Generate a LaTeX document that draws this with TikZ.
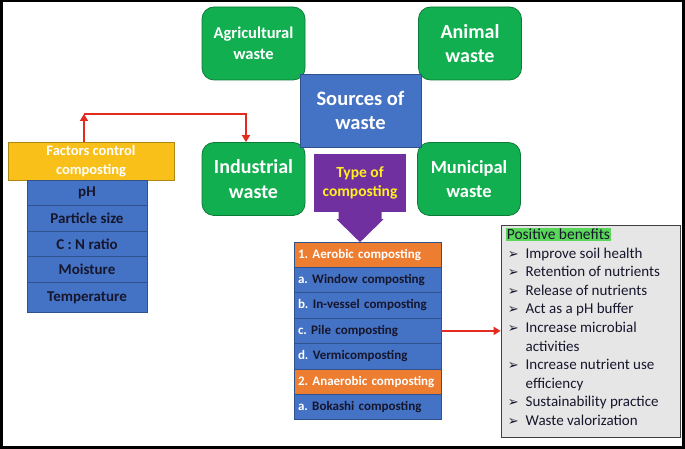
\documentclass[tikz,border=0pt]{standalone}
\usepackage{fontspec}
\setmainfont{Carlito}
\newfontfamily\dingfont{DejaVu Sans}
\usetikzlibrary{positioning,arrows.meta}

\definecolor{wastegreen}{HTML}{12AF50}
\definecolor{wasteblue}{HTML}{4472C4}
\definecolor{bordblue}{HTML}{2F528F}
\definecolor{factyellow}{HTML}{F9C01A}
\definecolor{typeorange}{HTML}{ED7D31}
\definecolor{typepurple}{HTML}{7030A0}
\definecolor{typeyellow}{HTML}{FFF01E}
\definecolor{linkred}{HTML}{E52B20}
\definecolor{panelgray}{HTML}{E7E6E6}
\definecolor{hlgreen}{HTML}{5AD65A}
\definecolor{darktext}{HTML}{16162C}

\newcommand{\benefit}{{\dingfont\fontsize{13}{13}\selectfont ➢}}

\begin{document}
\frenchspacing
\hyphenpenalty=10000
\begin{tikzpicture}[
  x=1pt, y=1pt,
  source/.style={draw=wastegreen!70!black, fill=wastegreen, rounded corners=12pt,
                 text=white, align=center, minimum width=103pt, minimum height=73pt,
                 inner sep=1pt, line width=0.8pt},
  hub/.style={draw=bordblue, fill=wasteblue, text=white, align=center,
              font=\bfseries\fontsize{20.5}{24}\selectfont,
              minimum width=121pt, minimum height=73pt, line width=0.8pt},
  cell/.style={draw=bordblue, fill=wasteblue, text=darktext, outer sep=0pt,
               font=\bfseries\fontsize{15}{18}\selectfont, inner sep=0pt,
               minimum width=120pt, minimum height=25.5pt, line width=0.8pt},
  item/.style={cell, minimum width=147pt, minimum height=25.4pt, text width=139pt,
               align=left, font=\bfseries\fontsize{13}{16}\selectfont},
  head/.style={item, fill=typeorange, text=white},
  link/.style={draw=linkred, line width=2.2pt, -{Triangle[length=7pt, width=8pt]}}
]
% frame
\fill[black] (0,0) rectangle (685,449);
\fill[white] (3,3) rectangle (682,447);

% sources of waste
\node[source, font=\bfseries\fontsize{16.5}{21}\selectfont] (agri) at (253.5,405.5) {Agricultural\\waste};
\node[source, font=\bfseries\fontsize{20}{24}\selectfont] (animal) at (470,405.5) {Animal\\waste};
\node[source, font=\bfseries\fontsize{20}{25}\selectfont] (industrial) at (253.5,270) {Industrial\\waste};
\node[source, font=\bfseries\fontsize{18.5}{24}\selectfont] (municipal) at (469,270) {Municipal\\waste};
\node[hub] (sources) at (360.5,338.5) {Sources of\\waste};

% type of composting
\node[fill=typepurple, text=typeyellow, align=center, inner sep=0pt,
      minimum width=92pt, minimum height=58pt,
      font=\bfseries\fontsize{15.5}{19}\selectfont] (type) at (360,266) {Type of\\composting};
\fill[typepurple] ([xshift=-21.5pt]type.south) -- ++(0,-7) -- ++(-2,0) -- ++(23.5,-23)
  -- ++(23.5,23) -- ++(-2,0) -- ++(0,7) -- cycle;

\node[head, anchor=north] (aerobic) at (367.5,207) {1. Aerobic composting};
\node[item, below=0pt of aerobic] (windrow) {\textcolor{white}{a.} Window composting};
\node[item, below=0pt of windrow] (invessel) {\textcolor{white}{b.} In-vessel composting};
\node[item, below=0pt of invessel] (pile) {\textcolor{white}{c.} Pile composting};
\node[item, below=0pt of pile] (vermi) {\textcolor{white}{d.} Vermicomposting};
\node[head, below=0pt of vermi] (anaerobic) {2. Anaerobic composting};
\node[item, below=0pt of anaerobic] (bokashi) {\textcolor{white}{a.} Bokashi composting};

% factors
\node[draw=factyellow!70!black, fill=factyellow, text=white, align=center, inner sep=0pt,
      minimum width=166pt, minimum height=38pt, line width=0.8pt,
      font=\bfseries\fontsize{14.5}{18.3}\selectfont] (factors) at (91,288) {Factors control\\composting};
\node[cell, below=0pt of factors, xshift=-4pt] (ph) {pH};
\node[cell, below=0pt of ph] (particle) {Particle size};
\node[cell, below=0pt of particle] (cnratio) {C : N ratio};
\node[cell, below=0pt of cnratio] (moisture) {Moisture};
\node[cell, below=0pt of moisture, minimum height=30pt] (temp) {Temperature};

% benefits
\node[draw=black!75, fill=panelgray, minimum width=179pt, minimum height=212pt,
      inner sep=0pt, line width=0.8pt] (benefits) at (590.5,118) {};
\node[fill=hlgreen, text=darktext, inner sep=1pt, anchor=north west,
      font=\fontsize{15.5}{18}\selectfont] (positive)
      at ([xshift=5pt,yshift=-3pt]benefits.north west) {Positive benefits};
\node[anchor=north west, inner sep=0pt, text=darktext, font=\fontsize{15}{18.6}\selectfont]
      (benefitlist) at ([xshift=2pt,yshift=-4pt]positive.south west) {%
  \begin{tabular}{@{}l@{\hspace{7pt}}l@{}}
  \benefit & Improve soil health\\
  \benefit & Retention of nutrients\\
  \benefit & Release of nutrients\\
  \benefit & Act as a pH buffer\\
  \benefit & Increase microbial\\
           & activities\\
  \benefit & Increase nutrient use\\
           & efficiency\\
  \benefit & Sustainability practice\\
  \benefit & Waste valorization
  \end{tabular}};

% connectors
\coordinate (bend) at (84,335);
\coordinate (drop) at (246,335);
\draw[link] (factors.north -| bend) -- (bend);
\draw[link] (bend) -- (drop) -- (drop |- industrial.north);
\draw[link] (pile.east) -- (pile.east -| benefits.west);
\end{tikzpicture}
\end{document}
